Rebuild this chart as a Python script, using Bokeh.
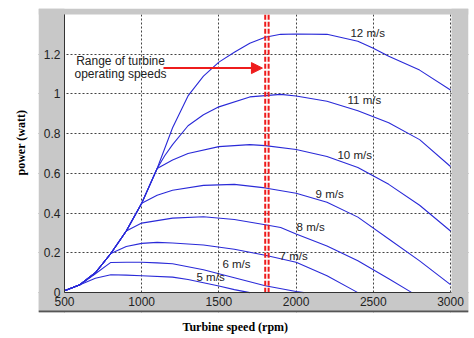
from bokeh.plotting import figure
from bokeh.models import FixedTicker, Arrow, NormalHead, Title, Range1d
from bokeh.core.properties import value
from bokeh.embed import file_html
from bokeh.resources import INLINE

# ---------------- data ----------------
x_ticks = [500, 1000, 1500, 2000, 2500, 3000]
x_tick_labels = ["500", "1000", "1500", "2000", "2500", "3000"]
y_ticks = [0, 0.2, 0.4, 0.6, 0.8, 1.0, 1.2]
y_tick_labels = ["0", "0.2", "0.4", "0.6", "0.8", "1", "1.2"]

rpm_5 = [500, 600, 700, 800, 900, 1000, 1200, 1300, 1400, 1500, 1600, 1700]
power_5 = [0.01, 0.04, 0.072, 0.09, 0.088, 0.085, 0.078, 0.066, 0.05, 0.033, 0.015, 0.0]

rpm_6 = [500, 600, 700, 800, 900, 1000, 1100, 1200, 1400, 1600, 1800, 2000, 2050]
power_6 = [0.01, 0.04, 0.095, 0.152, 0.153, 0.153, 0.15, 0.145, 0.115, 0.075, 0.035, 0.006, 0.0]

rpm_7 = [500, 600, 700, 800, 900, 1000, 1100, 1200, 1400, 1600, 1800, 2000, 2200, 2400]
power_7 = [0.01, 0.04, 0.1, 0.197, 0.232, 0.248, 0.253, 0.25, 0.24, 0.218, 0.188, 0.153, 0.085, 0.0]

rpm_8 = [500, 600, 700, 800, 900, 1000, 1200, 1400, 1600, 1800, 1900, 2000, 2200, 2400, 2600, 2750]
power_8 = [0.01, 0.04, 0.1, 0.197, 0.31, 0.35, 0.375, 0.382, 0.368, 0.342, 0.328, 0.295, 0.235, 0.16, 0.07, 0.0]

rpm_9 = [500, 600, 700, 800, 900, 1000, 1100, 1200, 1400, 1600, 1800, 2000, 2200, 2400, 2600, 2800, 3000]
power_9 = [0.01, 0.04, 0.1, 0.197, 0.31, 0.45, 0.49, 0.515, 0.54, 0.545, 0.527, 0.5, 0.455, 0.38, 0.27, 0.16, 0.04]

rpm_10 = [500, 600, 700, 800, 900, 1000, 1100, 1200, 1300, 1500, 1700, 1800, 2000, 2200, 2400, 2600, 2800, 3000]
power_10 = [0.01, 0.04, 0.1, 0.197, 0.31, 0.45, 0.625, 0.668, 0.7, 0.735, 0.745, 0.74, 0.72, 0.685, 0.63, 0.545, 0.44, 0.31]

rpm_11 = [500, 600, 700, 800, 900, 1000, 1100, 1150, 1200, 1300, 1400, 1500, 1700, 1900, 2000, 2200, 2400, 2600, 2800, 3000]
power_11 = [0.01, 0.04, 0.1, 0.197, 0.31, 0.45, 0.625, 0.69, 0.745, 0.84, 0.895, 0.935, 0.985, 0.998, 0.99, 0.963, 0.915, 0.855, 0.77, 0.635]

rpm_12 = [500, 600, 700, 800, 900, 1000, 1100, 1200, 1300, 1400, 1500, 1600, 1700, 1800, 1900, 2000, 2200, 2400, 2500, 2600, 2800, 3000]
power_12 = [0.01, 0.04, 0.1, 0.197, 0.31, 0.45, 0.625, 0.83, 0.99, 1.09, 1.16, 1.21, 1.255, 1.285, 1.30, 1.302, 1.30, 1.265, 1.23, 1.19, 1.12, 1.02]

curve_rpm = [rpm_5, rpm_6, rpm_7, rpm_8, rpm_9, rpm_10, rpm_11, rpm_12]
curve_power = [power_5, power_6, power_7, power_8, power_9, power_10, power_11, power_12]

label_text = ["5 m/s", "6 m/s", "7 m/s", "8 m/s", "9 m/s", "10 m/s", "11 m/s", "12 m/s"]
label_x = [1355, 1523, 1893, 2003, 2126, 2268, 2333, 2352]
label_y = [0.08, 0.145, 0.185, 0.33, 0.495, 0.695, 0.97, 1.305]

operating_range_rpm = [1800, 1822]
annotation_lines = ["Range of turbine", "operating speeds"]
annotation_x = [863, 863]
annotation_y = [1.165, 1.10]
arrow_y = 1.13
arrow_x_start = 1141
arrow_x_end = 1782

x_label = "Turbine speed (rpm)"
y_label = "power (watt)"

# ---------------- layout (pixels) ----------------
W, H = 474, 338
AL, AR, AT, AB = 64, 450, 14, 294          # white axes box
GL, GR, GT, GB = 38, 468, 8, 314           # grey figure panel (= bokeh frame)
X0, X1, Y0, Y1 = 500, 3000, 0, 1.4


def dx(px):
    return X0 + (px - AL) * (X1 - X0) / (AR - AL)


def dy(py):
    return Y1 - (py - AT) * (Y1 - Y0) / (AB - AT)


p = figure(width=W, height=H, x_range=Range1d(dx(GL), dx(GR)), y_range=Range1d(dy(GB), dy(GT)),
           output_backend="svg", toolbar_location=None, title=None,
           min_border_left=GL, min_border_right=W - GR, min_border_top=GT,
           min_border_bottom=H - GB, background_fill_color="white",
           border_fill_color="white", outline_line_color=None)

# grid (drawn first, grey panel covers it outside the axes box)
p.grid.grid_line_color = "#222222"
p.grid.grid_line_dash = "2 2"
p.grid.grid_line_alpha = 0.85

# grey surround (MATLAB figure colour)
GREY = "#c8c8c8"
p.quad(left=[dx(GL), dx(AR + 1), dx(GL), dx(GL)],
       right=[dx(AL), dx(GR), dx(GR), dx(GR)],
       bottom=[dy(GB), dy(GB), dy(AT), dy(GB)],
       top=[dy(GT), dy(GT), dy(GT), dy(AB)],
       fill_color=GREY, line_color=None)
p.quad(left=[dx(GL)], right=[dx(GR)], bottom=[dy(GB)], top=[dy(GB - 2)],
       fill_color="#555555", line_color=None)

# axes (placed on the axes box, inside the grey panel)
p.xaxis.fixed_location = Y0
p.yaxis.fixed_location = X0
p.xaxis.bounds = (X0, X1)
p.yaxis.bounds = (Y0, Y1)
p.xaxis.ticker = FixedTicker(ticks=x_ticks)
p.yaxis.ticker = FixedTicker(ticks=y_ticks)
p.xaxis.major_label_overrides = {t: s for t, s in zip(x_ticks, x_tick_labels)}
p.yaxis.major_label_overrides = {t: s for t, s in zip(y_ticks, y_tick_labels)}
p.axis.major_label_text_font = "Liberation Sans"
p.axis.major_label_text_font_size = "12px"
p.axis.major_label_text_color = "#222222"
p.axis.major_tick_out = 0
p.axis.major_tick_in = 0
p.axis.minor_tick_line_color = None
p.axis.axis_line_color = "#333333"
p.yaxis.major_label_standoff = 4
p.xaxis.major_label_standoff = 4

# curves
for xs, ys in zip(curve_rpm, curve_power):
    p.line(xs, ys, line_color="#2a2ad8", line_width=1.1)

p.text(x=label_x, y=label_y, text=label_text, text_font=value("Liberation Sans"),
       text_font_size="11.5px", text_color="#222222", text_baseline="middle",
       text_align="left")

# operating range
for xr in operating_range_rpm:
    p.segment(x0=xr, y0=Y0, x1=xr, y1=Y1, line_color="#ee1c1c", line_width=2,
              line_dash="5 2")

p.add_layout(Arrow(end=NormalHead(size=11, fill_color="#ee1c1c", line_color="#ee1c1c"),
                   x_start=arrow_x_start, y_start=arrow_y, x_end=arrow_x_end, y_end=arrow_y,
                   line_color="#ee1c1c", line_width=2))

p.text(x=annotation_x, y=annotation_y, text=annotation_lines, text_font=value("Liberation Sans"),
       text_font_size="12px", text_color="#222222", text_baseline="middle",
       text_align="center")

# axis titles
p.add_layout(Title(text=x_label, align="left", offset=144, text_font="Liberation Serif",
                   text_font_style="bold", text_font_size="12px", text_color="black"), "below")
p.add_layout(Title(text=y_label, align="left", offset=137, standoff=22, text_font="Liberation Serif",
                   text_font_style="bold", text_font_size="12px", text_color="black"), "left")

open("out.html", "w").write(file_html(p, INLINE))
